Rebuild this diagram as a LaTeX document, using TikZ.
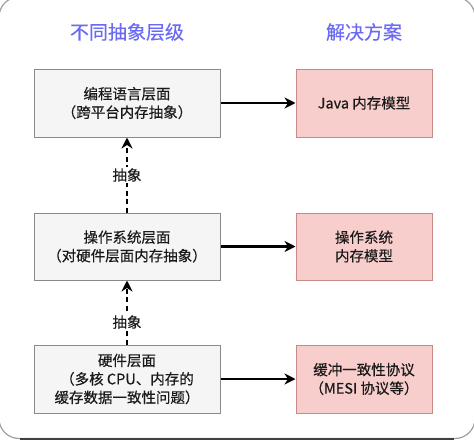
\documentclass[tikz,border=0pt]{standalone}
\usepackage{fontspec}
\setmainfont{Noto Sans CJK SC}[BoldFont=Noto Sans CJK SC, BoldFeatures={FakeBold=0.35}]
\usetikzlibrary{arrows.meta}
\definecolor{titleblue}{HTML}{6A6AF5}
\definecolor{lfill}{HTML}{F5F5F5}
\definecolor{ldraw}{HTML}{8A8A8A}
\definecolor{rfill}{HTML}{F8CECC}
\definecolor{rdraw}{HTML}{C98A87}
\definecolor{txt}{HTML}{1A1A1A}
\tikzset{
  lbox/.style={draw=ldraw, fill=lfill, line width=1pt, minimum width=186pt, minimum height=68pt,
    align=center, inner sep=0pt, text=txt, font=\fontsize{14.5}{18.5}\selectfont\bfseries},
  rbox/.style={draw=rdraw, fill=rfill, line width=1pt, minimum width=136pt, minimum height=68pt,
    align=center, inner sep=0pt, text=txt, font=\fontsize{14.5}{18.5}\selectfont\bfseries},
  ttl/.style={text=titleblue, font=\fontsize{19}{22}\selectfont\bfseries},
  solidarr/.style={line width=2.3pt, -{Stealth[length=11pt,width=11pt,inset=3.5pt]}},
  dasharr/.style={line width=2.3pt, dash pattern=on 5pt off 3.5pt, -{Stealth[length=11pt,width=11pt,inset=3.5pt]}},
  lbl/.style={fill=white, inner sep=1.5pt, text=txt, font=\fontsize{14.5}{18}\selectfont\bfseries}
}
\begin{document}
\begin{tikzpicture}[x=1pt,y=-1pt]
\useasboundingbox (0,0) rectangle (474,442);
\draw[gray!75, line width=1.2pt, rounded corners=20pt] (-1,-3) rectangle (475,438.5);
\draw[gray!50!black, line width=1.5pt] (20,439) -- (454,439);
\node[ttl] (t1) at (127,32) {不同抽象层级};
\node[ttl] (t2) at (364,32) {解决方案};
\node[lbox] (l1) at (127,103) {编程语言层面\\（跨平台内存抽象）};
\node[lbox, minimum height=67pt] (l2) at (127,246.5) {操作系统层面\\（对硬件层面内存抽象）};
\node[lbox] (l3) at (127,379) {硬件层面\\（多核 CPU、内存的\\缓存数据一致性问题）};
\node[rbox] (r1) at (364,103) {Java 内存模型};
\node[rbox, minimum height=67pt] (r2) at (364,246.5) {操作系统\\内存模型};
\node[rbox] (r3) at (364,379) {缓冲一致性协议\\（MESI 协议等）};
\draw[solidarr] (l1) -- (r1);
\draw[solidarr] (l2) -- (r2);
\draw[solidarr] (l3) -- (r3);
\draw[dasharr] (l2) -- node[lbl] (a1) {抽象} (l1);
\draw[dasharr] (l3) -- node[lbl, pos=0.35] (a2) {抽象} (l2);
\end{tikzpicture}
\end{document}
